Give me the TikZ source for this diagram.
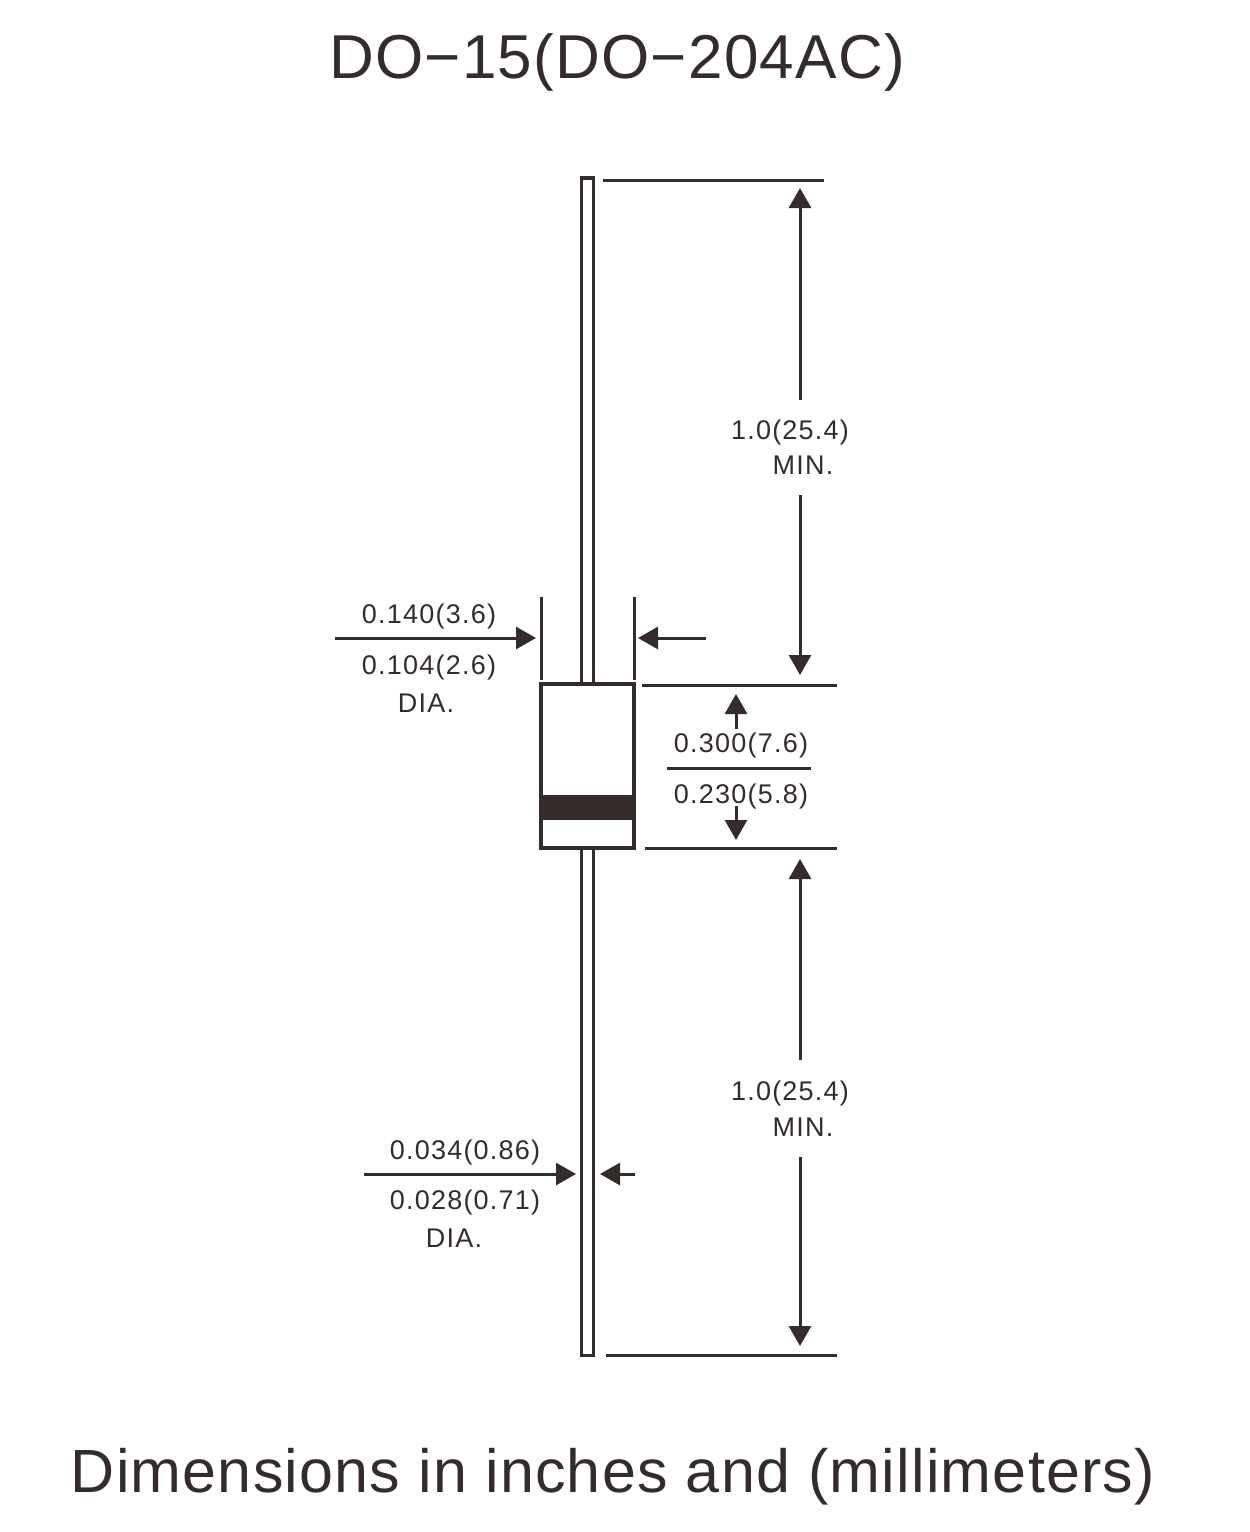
\documentclass[tikz,border=0pt]{standalone}
\usepackage{fontspec}
\usetikzlibrary{arrows.meta}
\setmainfont{Liberation Sans}
\newfontfamily\dimfont[LetterSpace=4.5]{Liberation Sans}
\newfontfamily\headfont[LetterSpace=2]{Liberation Sans}
\definecolor{ink}{HTML}{332C2B}
\begin{document}
\begin{tikzpicture}[x=1pt, y=-1pt, ink,
  outl/.style = {draw = ink, line width = 3.05pt, inner sep = 0pt, outer sep = 0pt, minimum width = 93pt},
  leadwire/.style = {outl, minimum width = 12pt},
  band/.style = {fill = ink, inner sep = 0pt, minimum width = 95pt, minimum height = 25pt},
  ext/.style = {draw = ink, line width = 3pt},
  dimarr/.style = {ext, -{Triangle[length = 20pt, width = 22pt]}},
  lbl/.style = {inner sep = 0pt, text = ink, font = \dimfont\fontsize{27}{32}\selectfont},
  headlbl/.style = {inner sep = 0pt, text = ink, font = \headfont\fontsize{62}{70}\selectfont},
  footlbl/.style = {inner sep = 0pt, text = ink, font = \headfont\fontsize{61}{70}\selectfont}]
\useasboundingbox (0,0) rectangle (1250,1532);
\node[headlbl] (title) at (617,62) {DO−15(DO−204AC)};
\node[footlbl] (foot) at (613,1477) {Dimensions in inches and (millimeters)};
\node[leadwire, minimum height = 506pt] (leadtop) at (587.5,431) {};
\node[leadwire, minimum height = 507pt] (leadbot) at (587.5,1102) {};
\node[outl, minimum height = 164pt, fill = white] (body) at (587.5,766) {};
\node[band] (stripe) at (587.5,807.5) {};
\foreach \nm/\x/\y/\t in {a/429/617/0.140(3.6), b/429/668/0.104(2.6), c/426/703/DIA.,
  d/741/746/0.300(7.6), e/741/796/0.230(5.8), f/790/433/1.0(25.4), g/803/465/MIN.,
  h/790/1093/1.0(25.4), i/803/1127/MIN., j/465/1152/0.034(0.86), k/465/1202/0.028(0.71), l/454/1238/DIA.}
  {\node[lbl] (lbl\nm) at (\x,\y) {\t};}
% free ends of the extension and dimension lines
\foreach \nm/\x/\y in {e1a/603/180, e1b/824/180, e2a/642/685, e2b/837/685, e3a/645/848, e3b/837/848,
  e4a/606/1355, e4b/837/1355, e5a/541.5/597, e5b/541.5/680, e6a/634/597, e6b/634/680, e7a/667/768, e7b/811/768,
  v1a/800/400, v1b/800/188, v2a/800/495, v2b/800/675, v3a/800/1060, v3b/800/859, v4a/800/1157, v4b/800/1346,
  s1a/736/729, s1b/736/694, s2a/736/806, s2b/736/840,
  h1a/335/638, h1b/536/638, h2a/706/638, h2b/638/638, h3a/364/1174, h3b/576/1174, h4a/635/1174, h4b/600/1174}
  {\coordinate (\nm) at (\x,\y);}
\foreach \i in {1,...,7}{\draw[ext] (e\i a) -- (e\i b);}
\foreach \i in {v1,v2,v3,v4,s1,s2,h1,h2,h3,h4}{\draw[dimarr] (\i a) -- (\i b);}
\end{tikzpicture}
\end{document}
